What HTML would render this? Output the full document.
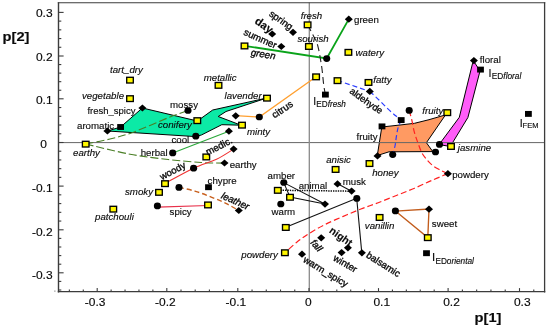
<!DOCTYPE html>
<html><head><meta charset="utf-8"><title>Loading plot p[1] vs p[2]</title>
<style>
html,body{margin:0;padding:0;background:#fff;}
svg{display:block;font-family:"Liberation Sans", sans-serif;fill:#111;}
svg text{fill:#0a0a0a;stroke:#0a0a0a;stroke-width:0.14px;}
</style></head>
<body>
<svg width="550" height="330" viewBox="0 0 550 330">
<rect x="0" y="0" width="550" height="330" fill="#fff"/>
<polygon points="107.6,131 120.6,127 142.4,108 197.4,121 212.7,110 266.8,98 226,111.5 218.2,116.5 241,125.2 221.8,124.7 201.4,135 195.6,136.6" fill="#0ceaa6" stroke="#000" stroke-width="1" stroke-linejoin="miter"/>
<polygon points="381.8,127 401,124.9 414.5,123.3 429,119.7 445.5,114.9 426.4,142.7 432.5,151.2 435.5,152.4 432,151.6 389,151.8 377.3,155.5" fill="#ff9a62" stroke="#000" stroke-width="1"/>
<polygon points="473.6,61 480,71 467.9,117.5 452,143.6 451,146.5 442.5,145.2 439.5,144.5 441.8,140.9 459.3,117.3 472.4,64" fill="#ff5cf8" stroke="#000" stroke-width="1"/>
<line x1="58.5" y1="142.6" x2="544.5" y2="142.6" stroke="#666" stroke-width="1"/>
<line x1="309.3" y1="2.5" x2="309.3" y2="291.5" stroke="#8a8a8a" stroke-width="1.3"/>
<path d="M244.5,45.8 L326.7,58.5 L348.8,19.1" fill="none" stroke="#0aa31a" stroke-width="1.8"/>
<path d="M172.7,152.9 L228.9,131.2" fill="none" stroke="#2aa83a" stroke-width="1.1"/>
<path d="M235.7,115.7 L259.3,117 L316.1,76.7" fill="none" stroke="#ffa030" stroke-width="1.3"/>
<path d="M307.6,24.7 C308.5,26.4 311.3,31.5 313,35 C314.7,38.5 316.4,40.6 317.8,45.8 C319.2,51.0 320.6,59.8 321.6,66.2 C322.6,72.6 323.0,79.3 323.6,84 C324.2,88.7 325.0,92.7 325.3,94.4" fill="none" stroke="#222" stroke-width="1.1" stroke-dasharray="7,4"/>
<path d="M337.3,80.4 L369.8,91.4" fill="none" stroke="#2a3cff" stroke-width="1.2" stroke-dasharray="5,3"/>
<path d="M369.8,91.4 C371.3,92.8 375.9,97.0 379,100 C382.1,103.0 385.4,106.4 388.2,109.1 C391.0,111.8 393.8,114.2 396,116 C398.2,117.8 400.4,119.3 401.3,120" fill="none" stroke="#2a3cff" stroke-width="1.2" stroke-dasharray="5,3"/>
<path d="M401.3,120 C400.8,121.2 399.0,124.6 398.2,127.3 C397.4,130.0 396.9,133.4 396.4,136.4 C395.9,139.4 395.7,142.5 395.1,145.5 C394.5,148.5 393.1,152.8 392.7,154.2" fill="none" stroke="#2a3cff" stroke-width="1.2" stroke-dasharray="5,3"/>
<path d="M409.1,110.5 C409.6,112.1 410.9,116.3 411.8,120 C412.7,123.7 413.4,128.8 414.5,132.7 C415.6,136.6 417.0,140.3 418.2,143.6 C419.4,146.9 420.4,150.0 421.8,152.7 C423.2,155.4 425.0,157.5 426.8,159.6 C428.6,161.7 430.5,163.8 432.7,165.5 C434.9,167.2 437.5,168.6 440,170 C442.5,171.4 446.5,173.2 447.8,173.8" fill="none" stroke="#ff2020" stroke-width="1.2" stroke-dasharray="6,3"/>
<path d="M447.8,173.6 C445.3,174.7 438.2,177.6 432.7,180 C427.1,182.4 420.6,185.6 414.5,188.2 C408.4,190.8 402.4,193.1 396.4,195.5 C390.3,197.9 384.1,200.4 378.2,202.7 C372.3,204.9 366.8,206.7 360.9,209 C355.0,211.3 348.8,214.0 342.7,216.6 C336.6,219.2 330.1,222.0 324.5,224.8 C318.9,227.6 313.6,230.8 309.1,233.6 C304.6,236.4 301.2,238.7 297.3,241.8 C293.4,244.9 287.5,250.5 285.5,252.2" fill="none" stroke="#ff2020" stroke-width="1.2" stroke-dasharray="6,3"/>
<path d="M85.7,144 C89.8,143.2 102.6,140.8 110,139 C117.4,137.2 123.3,135.7 130,133.4 C136.7,131.1 143.3,128.1 150,125.4 C156.7,122.7 163.7,119.5 170,117 C176.3,114.5 185.0,111.6 188,110.5" fill="none" stroke="#4a7f26" stroke-width="1.1" stroke-dasharray="8,3"/>
<path d="M85.7,144 C93.1,145.7 116.2,151.6 130,154.2 C143.8,156.8 156.3,158.1 168.2,159.5 C180.1,160.9 191.8,161.9 201.2,162.5 C210.6,163.1 220.8,163.0 224.7,163.1" fill="none" stroke="#4a7f26" stroke-width="1.1" stroke-dasharray="8,3"/>
<path d="M233.6,149.1 C230.8,150.8 223.2,156.1 216.5,159.3 C209.8,162.5 202.2,164.2 193.6,168.2 C185.0,172.2 169.7,180.9 164.9,183.4" fill="none" stroke="#f03030" stroke-width="1.1"/>
<path d="M157.4,207.2 L208,205.5" fill="none" stroke="#e8304a" stroke-width="1.2"/>
<path d="M178.9,187.3 C181.7,188.0 190.0,189.6 195.5,191.3 C201.0,193.0 206.7,195.2 211.8,197.3 C217.0,199.4 221.9,201.4 226.4,203.6 C230.9,205.8 236.7,209.3 238.8,210.5" fill="none" stroke="#c8601e" stroke-width="1.4" stroke-dasharray="5,3"/>
<path d="M283.7,182.6 L324.9,204 L290,197 L283.7,182.6" fill="none" stroke="#111" stroke-width="1.05"/>
<path d="M337.6,183.8 L351.6,191.2" fill="none" stroke="#111" stroke-width="1.05"/>
<path d="M277.8,190.2 L351.6,191.2" fill="none" stroke="#111" stroke-width="1.5" stroke-dasharray="1.4,1"/>
<path d="M285.8,227.3 L356.7,198.3 L361.8,252.9" fill="none" stroke="#111" stroke-width="1.1"/>
<path d="M395.4,211.1 L429,209 L427.8,237.6 L395.4,211.1" fill="none" stroke="#c25c1c" stroke-width="1.35"/>
<rect x="126.70" y="77.30" width="6.6" height="5.7" fill="#fff700" stroke="#000" stroke-width="1.35"/>
<rect x="126.70" y="95.80" width="6.6" height="5.7" fill="#fff700" stroke="#000" stroke-width="1.35"/>
<rect x="215.20" y="82.50" width="6.6" height="5.7" fill="#fff700" stroke="#000" stroke-width="1.35"/>
<rect x="263.70" y="95.30" width="6.6" height="5.7" fill="#fff700" stroke="#000" stroke-width="1.35"/>
<rect x="194.00" y="117.80" width="6.6" height="5.7" fill="#fff700" stroke="#000" stroke-width="1.35"/>
<rect x="238.70" y="122.30" width="6.6" height="5.7" fill="#fff700" stroke="#000" stroke-width="1.35"/>
<rect x="82.40" y="141.30" width="6.6" height="5.7" fill="#fff700" stroke="#000" stroke-width="1.35"/>
<rect x="161.70" y="180.80" width="6.6" height="5.7" fill="#fff700" stroke="#000" stroke-width="1.35"/>
<rect x="155.70" y="189.50" width="6.6" height="5.7" fill="#fff700" stroke="#000" stroke-width="1.35"/>
<rect x="110.00" y="206.30" width="6.6" height="5.7" fill="#fff700" stroke="#000" stroke-width="1.35"/>
<rect x="203.00" y="154.10" width="6.6" height="5.7" fill="#fff700" stroke="#000" stroke-width="1.35"/>
<rect x="204.70" y="202.10" width="6.6" height="5.7" fill="#fff700" stroke="#000" stroke-width="1.35"/>
<rect x="241.20" y="43.10" width="6.6" height="5.7" fill="#fff700" stroke="#000" stroke-width="1.35"/>
<rect x="304.30" y="22.00" width="6.6" height="5.7" fill="#fff700" stroke="#000" stroke-width="1.35"/>
<rect x="305.60" y="43.60" width="6.6" height="5.7" fill="#fff700" stroke="#000" stroke-width="1.35"/>
<rect x="345.10" y="49.50" width="6.6" height="5.7" fill="#fff700" stroke="#000" stroke-width="1.35"/>
<rect x="312.80" y="74.00" width="6.6" height="5.7" fill="#fff700" stroke="#000" stroke-width="1.35"/>
<rect x="334.20" y="77.80" width="6.6" height="5.7" fill="#fff700" stroke="#000" stroke-width="1.35"/>
<rect x="365.20" y="79.60" width="6.6" height="5.7" fill="#fff700" stroke="#000" stroke-width="1.35"/>
<rect x="444.00" y="109.80" width="6.6" height="5.7" fill="#fff700" stroke="#000" stroke-width="1.35"/>
<rect x="447.70" y="143.60" width="6.6" height="5.7" fill="#fff700" stroke="#000" stroke-width="1.35"/>
<rect x="366.20" y="160.70" width="6.6" height="5.7" fill="#fff700" stroke="#000" stroke-width="1.35"/>
<rect x="332.30" y="166.60" width="6.6" height="5.7" fill="#fff700" stroke="#000" stroke-width="1.35"/>
<rect x="274.50" y="187.50" width="6.6" height="5.7" fill="#fff700" stroke="#000" stroke-width="1.35"/>
<rect x="286.70" y="194.40" width="6.6" height="5.7" fill="#fff700" stroke="#000" stroke-width="1.35"/>
<rect x="282.50" y="224.60" width="6.6" height="5.7" fill="#fff700" stroke="#000" stroke-width="1.35"/>
<rect x="281.60" y="249.90" width="6.6" height="5.7" fill="#fff700" stroke="#000" stroke-width="1.35"/>
<rect x="376.30" y="214.60" width="6.6" height="5.7" fill="#fff700" stroke="#000" stroke-width="1.35"/>
<rect x="424.50" y="234.80" width="6.6" height="5.7" fill="#fff700" stroke="#000" stroke-width="1.35"/>
<rect x="117.20" y="124.05" width="6.8" height="5.9" fill="#000"/>
<rect x="205.10" y="184.25" width="6.8" height="5.9" fill="#000"/>
<rect x="322.00" y="91.65" width="6.8" height="5.9" fill="#000"/>
<rect x="378.60" y="123.45" width="6.8" height="5.9" fill="#000"/>
<rect x="397.80" y="117.15" width="6.8" height="5.9" fill="#000"/>
<rect x="477.10" y="66.65" width="6.8" height="5.9" fill="#000"/>
<rect x="525.00" y="110.95" width="6.8" height="5.9" fill="#000"/>
<rect x="423.10" y="250.25" width="6.8" height="5.9" fill="#000"/>
<ellipse cx="188" cy="110.5" rx="3.55" ry="3.35" fill="#000"/>
<ellipse cx="195.8" cy="136.2" rx="3.55" ry="3.35" fill="#000"/>
<ellipse cx="259.3" cy="117" rx="3.55" ry="3.35" fill="#000"/>
<ellipse cx="172.7" cy="152.9" rx="3.55" ry="3.35" fill="#000"/>
<ellipse cx="193.6" cy="168.2" rx="3.55" ry="3.35" fill="#000"/>
<ellipse cx="179" cy="187.4" rx="3.55" ry="3.35" fill="#000"/>
<ellipse cx="157.4" cy="205.9" rx="3.55" ry="3.35" fill="#000"/>
<ellipse cx="326.7" cy="58.6" rx="3.55" ry="3.35" fill="#000"/>
<ellipse cx="409.2" cy="110.4" rx="3.55" ry="3.35" fill="#000"/>
<ellipse cx="392.7" cy="154.6" rx="3.55" ry="3.35" fill="#000"/>
<ellipse cx="435.5" cy="152" rx="3.55" ry="3.35" fill="#000"/>
<ellipse cx="439.5" cy="144.4" rx="3.55" ry="3.35" fill="#000"/>
<ellipse cx="283.8" cy="182.5" rx="3.55" ry="3.35" fill="#000"/>
<ellipse cx="280.8" cy="204" rx="3.55" ry="3.35" fill="#000"/>
<ellipse cx="356.8" cy="198.4" rx="3.55" ry="3.35" fill="#000"/>
<ellipse cx="395.4" cy="210.9" rx="3.55" ry="3.35" fill="#000"/>
<path d="M138.40,108 L142.4,104.40 L146.40,108 L142.4,111.60Z" fill="#000"/>
<path d="M103.40,131 L107.4,127.40 L111.40,131 L107.4,134.60Z" fill="#000"/>
<path d="M231.70,115.8 L235.7,112.20 L239.70,115.8 L235.7,119.40Z" fill="#000"/>
<path d="M224.90,131.2 L228.9,127.60 L232.90,131.2 L228.9,134.80Z" fill="#000"/>
<path d="M229.60,149.1 L233.6,145.50 L237.60,149.1 L233.6,152.70Z" fill="#000"/>
<path d="M220.50,163 L224.5,159.40 L228.50,163 L224.5,166.60Z" fill="#000"/>
<path d="M234.80,210.5 L238.8,206.90 L242.80,210.5 L238.8,214.10Z" fill="#000"/>
<path d="M268.20,34 L272.2,30.40 L276.20,34 L272.2,37.60Z" fill="#000"/>
<path d="M289.00,32.3 L293,28.70 L297.00,32.3 L293,35.90Z" fill="#000"/>
<path d="M277.30,46.5 L281.3,42.90 L285.30,46.5 L281.3,50.10Z" fill="#000"/>
<path d="M344.80,19.2 L348.8,15.60 L352.80,19.2 L348.8,22.80Z" fill="#000"/>
<path d="M365.80,91.4 L369.8,87.80 L373.80,91.4 L369.8,95.00Z" fill="#000"/>
<path d="M469.90,60.6 L473.9,57.00 L477.90,60.6 L473.9,64.20Z" fill="#000"/>
<path d="M373.50,155.9 L377.5,152.30 L381.50,155.9 L377.5,159.50Z" fill="#000"/>
<path d="M443.90,173.7 L447.9,170.10 L451.90,173.7 L447.9,177.30Z" fill="#000"/>
<path d="M333.50,183.9 L337.5,180.30 L341.50,183.9 L337.5,187.50Z" fill="#000"/>
<path d="M347.60,191.1 L351.6,187.50 L355.60,191.1 L351.6,194.70Z" fill="#000"/>
<path d="M321.00,204.1 L325,200.50 L329.00,204.1 L325,207.70Z" fill="#000"/>
<path d="M425.00,209.2 L429,205.60 L433.00,209.2 L429,212.80Z" fill="#000"/>
<path d="M317.20,237.8 L321.2,234.20 L325.20,237.8 L321.2,241.40Z" fill="#000"/>
<path d="M343.90,247.8 L347.9,244.20 L351.90,247.8 L347.9,251.40Z" fill="#000"/>
<path d="M337.60,252.6 L341.6,249.00 L345.60,252.6 L341.6,256.20Z" fill="#000"/>
<path d="M298.00,254.2 L302,250.60 L306.00,254.2 L302,257.80Z" fill="#000"/>
<path d="M357.90,252.8 L361.9,249.20 L365.90,252.8 L361.9,256.40Z" fill="#000"/>
<line x1="58.5" y1="2.2" x2="58.5" y2="292.4" stroke="#3c3c3c" stroke-width="1.4"/>
<line x1="544.6" y1="2.2" x2="544.6" y2="292.4" stroke="#3c3c3c" stroke-width="1.3"/>
<line x1="57.8" y1="2.7" x2="545.25" y2="2.7" stroke="#3c3c3c" stroke-width="1.05"/>
<line x1="57.8" y1="291.7" x2="545.25" y2="291.7" stroke="#3c3c3c" stroke-width="1.3"/>
<line x1="69.36" y1="291.7" x2="69.36" y2="289.5" stroke="#3c3c3c" stroke-width="1.1"/>
<line x1="58.5" y1="290.00" x2="61.3" y2="290.00" stroke="#3c3c3c" stroke-width="1.1"/>
<line x1="83.28" y1="291.7" x2="83.28" y2="289.5" stroke="#3c3c3c" stroke-width="1.1"/>
<line x1="58.5" y1="281.40" x2="61.3" y2="281.40" stroke="#3c3c3c" stroke-width="1.1"/>
<line x1="97.20" y1="291.7" x2="97.20" y2="288.09999999999997" stroke="#3c3c3c" stroke-width="1.1"/>
<line x1="58.5" y1="272.80" x2="63.6" y2="272.80" stroke="#3c3c3c" stroke-width="1.1"/>
<line x1="111.12" y1="291.7" x2="111.12" y2="289.5" stroke="#3c3c3c" stroke-width="1.1"/>
<line x1="58.5" y1="264.20" x2="61.3" y2="264.20" stroke="#3c3c3c" stroke-width="1.1"/>
<line x1="125.04" y1="291.7" x2="125.04" y2="289.5" stroke="#3c3c3c" stroke-width="1.1"/>
<line x1="58.5" y1="255.60" x2="61.3" y2="255.60" stroke="#3c3c3c" stroke-width="1.1"/>
<line x1="138.96" y1="291.7" x2="138.96" y2="289.5" stroke="#3c3c3c" stroke-width="1.1"/>
<line x1="58.5" y1="247.00" x2="61.3" y2="247.00" stroke="#3c3c3c" stroke-width="1.1"/>
<line x1="152.88" y1="291.7" x2="152.88" y2="289.5" stroke="#3c3c3c" stroke-width="1.1"/>
<line x1="58.5" y1="238.40" x2="61.3" y2="238.40" stroke="#3c3c3c" stroke-width="1.1"/>
<line x1="166.80" y1="291.7" x2="166.80" y2="288.09999999999997" stroke="#3c3c3c" stroke-width="1.1"/>
<line x1="58.5" y1="229.80" x2="63.6" y2="229.80" stroke="#3c3c3c" stroke-width="1.1"/>
<line x1="181.00" y1="291.7" x2="181.00" y2="289.5" stroke="#3c3c3c" stroke-width="1.1"/>
<line x1="58.5" y1="221.06" x2="61.3" y2="221.06" stroke="#3c3c3c" stroke-width="1.1"/>
<line x1="195.20" y1="291.7" x2="195.20" y2="289.5" stroke="#3c3c3c" stroke-width="1.1"/>
<line x1="58.5" y1="212.32" x2="61.3" y2="212.32" stroke="#3c3c3c" stroke-width="1.1"/>
<line x1="209.40" y1="291.7" x2="209.40" y2="289.5" stroke="#3c3c3c" stroke-width="1.1"/>
<line x1="58.5" y1="203.58" x2="61.3" y2="203.58" stroke="#3c3c3c" stroke-width="1.1"/>
<line x1="223.60" y1="291.7" x2="223.60" y2="289.5" stroke="#3c3c3c" stroke-width="1.1"/>
<line x1="58.5" y1="194.84" x2="61.3" y2="194.84" stroke="#3c3c3c" stroke-width="1.1"/>
<line x1="237.80" y1="291.7" x2="237.80" y2="288.09999999999997" stroke="#3c3c3c" stroke-width="1.1"/>
<line x1="58.5" y1="186.10" x2="63.6" y2="186.10" stroke="#3c3c3c" stroke-width="1.1"/>
<line x1="252.04" y1="291.7" x2="252.04" y2="289.5" stroke="#3c3c3c" stroke-width="1.1"/>
<line x1="58.5" y1="177.38" x2="61.3" y2="177.38" stroke="#3c3c3c" stroke-width="1.1"/>
<line x1="266.28" y1="291.7" x2="266.28" y2="289.5" stroke="#3c3c3c" stroke-width="1.1"/>
<line x1="58.5" y1="168.66" x2="61.3" y2="168.66" stroke="#3c3c3c" stroke-width="1.1"/>
<line x1="280.52" y1="291.7" x2="280.52" y2="289.5" stroke="#3c3c3c" stroke-width="1.1"/>
<line x1="58.5" y1="159.94" x2="61.3" y2="159.94" stroke="#3c3c3c" stroke-width="1.1"/>
<line x1="294.76" y1="291.7" x2="294.76" y2="289.5" stroke="#3c3c3c" stroke-width="1.1"/>
<line x1="58.5" y1="151.22" x2="61.3" y2="151.22" stroke="#3c3c3c" stroke-width="1.1"/>
<line x1="309.00" y1="291.7" x2="309.00" y2="288.09999999999997" stroke="#3c3c3c" stroke-width="1.1"/>
<line x1="58.5" y1="142.50" x2="63.6" y2="142.50" stroke="#3c3c3c" stroke-width="1.1"/>
<line x1="322.90" y1="291.7" x2="322.90" y2="289.5" stroke="#3c3c3c" stroke-width="1.1"/>
<line x1="58.5" y1="133.76" x2="61.3" y2="133.76" stroke="#3c3c3c" stroke-width="1.1"/>
<line x1="336.80" y1="291.7" x2="336.80" y2="289.5" stroke="#3c3c3c" stroke-width="1.1"/>
<line x1="58.5" y1="125.02" x2="61.3" y2="125.02" stroke="#3c3c3c" stroke-width="1.1"/>
<line x1="350.70" y1="291.7" x2="350.70" y2="289.5" stroke="#3c3c3c" stroke-width="1.1"/>
<line x1="58.5" y1="116.28" x2="61.3" y2="116.28" stroke="#3c3c3c" stroke-width="1.1"/>
<line x1="364.60" y1="291.7" x2="364.60" y2="289.5" stroke="#3c3c3c" stroke-width="1.1"/>
<line x1="58.5" y1="107.54" x2="61.3" y2="107.54" stroke="#3c3c3c" stroke-width="1.1"/>
<line x1="378.50" y1="291.7" x2="378.50" y2="288.09999999999997" stroke="#3c3c3c" stroke-width="1.1"/>
<line x1="58.5" y1="98.80" x2="63.6" y2="98.80" stroke="#3c3c3c" stroke-width="1.1"/>
<line x1="392.42" y1="291.7" x2="392.42" y2="289.5" stroke="#3c3c3c" stroke-width="1.1"/>
<line x1="58.5" y1="90.24" x2="61.3" y2="90.24" stroke="#3c3c3c" stroke-width="1.1"/>
<line x1="406.34" y1="291.7" x2="406.34" y2="289.5" stroke="#3c3c3c" stroke-width="1.1"/>
<line x1="58.5" y1="81.68" x2="61.3" y2="81.68" stroke="#3c3c3c" stroke-width="1.1"/>
<line x1="420.26" y1="291.7" x2="420.26" y2="289.5" stroke="#3c3c3c" stroke-width="1.1"/>
<line x1="58.5" y1="73.12" x2="61.3" y2="73.12" stroke="#3c3c3c" stroke-width="1.1"/>
<line x1="434.18" y1="291.7" x2="434.18" y2="289.5" stroke="#3c3c3c" stroke-width="1.1"/>
<line x1="58.5" y1="64.56" x2="61.3" y2="64.56" stroke="#3c3c3c" stroke-width="1.1"/>
<line x1="448.10" y1="291.7" x2="448.10" y2="288.09999999999997" stroke="#3c3c3c" stroke-width="1.1"/>
<line x1="58.5" y1="56.00" x2="63.6" y2="56.00" stroke="#3c3c3c" stroke-width="1.1"/>
<line x1="462.38" y1="291.7" x2="462.38" y2="289.5" stroke="#3c3c3c" stroke-width="1.1"/>
<line x1="58.5" y1="47.28" x2="61.3" y2="47.28" stroke="#3c3c3c" stroke-width="1.1"/>
<line x1="476.66" y1="291.7" x2="476.66" y2="289.5" stroke="#3c3c3c" stroke-width="1.1"/>
<line x1="58.5" y1="38.56" x2="61.3" y2="38.56" stroke="#3c3c3c" stroke-width="1.1"/>
<line x1="490.94" y1="291.7" x2="490.94" y2="289.5" stroke="#3c3c3c" stroke-width="1.1"/>
<line x1="58.5" y1="29.84" x2="61.3" y2="29.84" stroke="#3c3c3c" stroke-width="1.1"/>
<line x1="505.22" y1="291.7" x2="505.22" y2="289.5" stroke="#3c3c3c" stroke-width="1.1"/>
<line x1="58.5" y1="21.12" x2="61.3" y2="21.12" stroke="#3c3c3c" stroke-width="1.1"/>
<line x1="519.50" y1="291.7" x2="519.50" y2="288.09999999999997" stroke="#3c3c3c" stroke-width="1.1"/>
<line x1="58.5" y1="12.40" x2="63.6" y2="12.40" stroke="#3c3c3c" stroke-width="1.1"/>
<line x1="533.78" y1="291.7" x2="533.78" y2="289.5" stroke="#3c3c3c" stroke-width="1.1"/>
<rect x="54.4" y="290.6" width="1" height="1" fill="#555"/>
<text transform="translate(52.6 17.0) scale(1.2 1)" text-anchor="end" style="font-size:10px;">0.3</text>
<text transform="translate(52.6 61.0) scale(1.2 1)" text-anchor="end" style="font-size:10px;">0.2</text>
<text transform="translate(52.6 103.9) scale(1.2 1)" text-anchor="end" style="font-size:10px;">0.1</text>
<text transform="translate(52.6 191.9) scale(1.2 1)" text-anchor="end" style="font-size:10px;">-0.1</text>
<text transform="translate(52.6 235.6) scale(1.2 1)" text-anchor="end" style="font-size:10px;">-0.2</text>
<text transform="translate(52.6 278.7) scale(1.2 1)" text-anchor="end" style="font-size:10px;">-0.3</text>
<text transform="translate(43.5 148.4) scale(1.2 1)" text-anchor="middle" style="font-size:10px;">0</text>
<text transform="translate(84.8 305.6) scale(1.2 1)" text-anchor="start" style="font-size:10px;">-0.3</text>
<text transform="translate(155.1 305.6) scale(1.2 1)" text-anchor="start" style="font-size:10px;">-0.2</text>
<text transform="translate(225.5 305.6) scale(1.2 1)" text-anchor="start" style="font-size:10px;">-0.1</text>
<text transform="translate(305.0 305.6) scale(1.2 1)" text-anchor="start" style="font-size:10px;">0</text>
<text transform="translate(373.4 305.6) scale(1.2 1)" text-anchor="start" style="font-size:10px;">0.1</text>
<text transform="translate(443.2 305.6) scale(1.2 1)" text-anchor="start" style="font-size:10px;">0.2</text>
<text transform="translate(513.9 305.6) scale(1.2 1)" text-anchor="start" style="font-size:10px;">0.3</text>
<text transform="translate(2.6 40.5) scale(1.13 1)" text-anchor="start" style="font-size:13px;font-weight:bold;">p[2]</text>
<text transform="translate(474.6 322.3) scale(1.13 1)" text-anchor="start" style="font-size:13px;font-weight:bold;">p[1]</text>
<text x="110" y="72.5" text-anchor="start" style="font-size:9.7px;font-style:italic;">tart_dry</text>
<text x="82" y="99" text-anchor="start" style="font-size:9.7px;font-style:italic;">vegetable</text>
<text x="87.4" y="114.0" text-anchor="start" style="font-size:9.5px;">fresh_spicy</text>
<text x="77" y="128.5" text-anchor="start" style="font-size:9.7px;">aromatic</text>
<text x="73.0" y="156.0" text-anchor="start" style="font-size:9.7px;font-style:italic;">earthy</text>
<text x="170" y="107.5" text-anchor="start" style="font-size:9.7px;">mossy</text>
<text x="158" y="127.8" text-anchor="start" style="font-size:9.7px;font-style:italic;">conifery</text>
<text x="171.5" y="143.0" text-anchor="start" style="font-size:9.7px;">cool</text>
<text x="140.7" y="156.3" text-anchor="start" style="font-size:9.7px;">herbal</text>
<text x="203.7" y="80.5" text-anchor="start" style="font-size:9.7px;font-style:italic;">metallic</text>
<text x="224.5" y="99" text-anchor="start" style="font-size:9.7px;font-style:italic;">lavender</text>
<text x="247" y="135" text-anchor="start" style="font-size:9.7px;font-style:italic;">minty</text>
<text x="274.6" y="118.6" text-anchor="start" style="font-size:9.7px;stroke-width:0.35px;" transform="rotate(-34 274.6 118.6)">citrus</text>
<text x="207.8" y="155.6" text-anchor="start" style="font-size:9.7px;stroke-width:0.35px;" transform="rotate(-27 207.8 155.6)">medic.</text>
<text x="229.7" y="167.8" text-anchor="start" style="font-size:9.7px;">earthy</text>
<text x="162" y="180.3" text-anchor="start" style="font-size:9.6px;stroke-width:0.35px;" transform="rotate(-28 162 180.3)">woody</text>
<text x="125" y="195.2" text-anchor="start" style="font-size:9.7px;font-style:italic;">smoky</text>
<text x="95" y="220" text-anchor="start" style="font-size:9.7px;font-style:italic;">patchouli</text>
<text x="169.6" y="215.0" text-anchor="start" style="font-size:9.7px;">spicy</text>
<text x="207.6" y="184.2" text-anchor="start" style="font-size:9.7px;">chypre</text>
<text x="220.5" y="198" text-anchor="start" style="font-size:9.7px;font-style:italic;stroke-width:0.35px;" transform="rotate(24 220.5 198)">leather</text>
<text x="268.4" y="15.2" text-anchor="start" style="font-size:9.7px;stroke-width:0.35px;" transform="rotate(35 268.4 15.2)">spring</text>
<text x="254.0" y="22.8" text-anchor="start" style="font-size:11.2px;font-weight:bold;" transform="rotate(35 254.0 22.8)">day</text>
<text x="243" y="34.5" text-anchor="start" style="font-size:9.7px;stroke-width:0.35px;" transform="rotate(24 243 34.5)">summer</text>
<text x="250.5" y="55.5" text-anchor="start" style="font-size:9.7px;font-style:italic;stroke-width:0.35px;" transform="rotate(9 250.5 55.5)">green</text>
<text x="300.7" y="19" text-anchor="start" style="font-size:9.7px;font-style:italic;">fresh</text>
<text x="297.4" y="42" text-anchor="start" style="font-size:9.7px;font-style:italic;">sourish</text>
<text x="354" y="22.6" text-anchor="start" style="font-size:9.7px;">green</text>
<text x="355.5" y="55.6" text-anchor="start" style="font-size:9.7px;font-style:italic;">watery</text>
<text x="373.2" y="83.3" text-anchor="start" style="font-size:9.7px;font-style:italic;">fatty</text>
<text x="348.9" y="92.6" text-anchor="start" style="font-size:9.35px;stroke-width:0.35px;" transform="rotate(35 348.9 92.6)">aldehyde</text>
<text x="356.5" y="139.8" text-anchor="start" style="font-size:9.7px;">fruity</text>
<text x="422.3" y="114.3" text-anchor="start" style="font-size:9.7px;font-style:italic;">fruity</text>
<text x="479.8" y="63" text-anchor="start" style="font-size:9.7px;">floral</text>
<text x="457.8" y="151.3" text-anchor="start" style="font-size:9.7px;font-style:italic;">jasmine</text>
<text x="372.2" y="175.6" text-anchor="start" style="font-size:9.7px;font-style:italic;">honey</text>
<text x="452.2" y="178.4" text-anchor="start" style="font-size:9.7px;">powdery</text>
<text x="326.2" y="162.6" text-anchor="start" style="font-size:9.7px;font-style:italic;">anisic</text>
<text x="267.6" y="178.7" text-anchor="start" style="font-size:9.7px;">amber</text>
<text x="298.7" y="189" text-anchor="start" style="font-size:9.7px;">animal</text>
<text x="342.7" y="185.2" text-anchor="start" style="font-size:9.7px;">musk</text>
<text x="271.5" y="215.2" text-anchor="start" style="font-size:9.7px;">warm</text>
<text x="364.8" y="229" text-anchor="start" style="font-size:9.7px;font-style:italic;">vanillin</text>
<text x="431.8" y="226.5" text-anchor="start" style="font-size:9.7px;">sweet</text>
<text x="241.3" y="257.7" text-anchor="start" style="font-size:9.7px;font-style:italic;">powdery</text>
<text x="310" y="243" text-anchor="start" style="font-size:9.7px;font-style:italic;stroke-width:0.35px;" transform="rotate(49 310 243)">fall</text>
<text x="328.6" y="232.1" text-anchor="start" style="font-size:10.4px;font-weight:bold;" transform="rotate(35 328.6 232.1)">night</text>
<text x="332.5" y="260" text-anchor="start" style="font-size:9.7px;stroke-width:0.35px;" transform="rotate(30 332.5 260)">winter</text>
<text x="302.6" y="261.6" text-anchor="start" style="font-size:9.5px;stroke-width:0.35px;" transform="rotate(31 302.6 261.6)">warm_spicy</text>
<text x="365.5" y="256.8" text-anchor="start" style="font-size:9.7px;stroke-width:0.35px;" transform="rotate(32.5 365.5 256.8)">balsamic</text>
<text x="313.3" y="104.9" style="font-size:10.4px">I</text>
<text x="316.3" y="107.4" style="font-size:8.2px">ED<tspan style="font-style:italic">fresh</tspan></text>
<text x="488.6" y="77.0" style="font-size:10.6px">I</text>
<text x="491.8" y="78.7" style="font-size:8.3px">ED<tspan style="font-style:italic">floral</tspan></text>
<text x="519.7" y="126.8" style="font-size:10.6px">I</text>
<text x="522.6" y="127.6" style="font-size:7.5px">FEM<tspan style="font-style:italic"></tspan></text>
<text x="431.9" y="261.0" style="font-size:11.4px">I</text>
<text x="435.4" y="264.0" style="font-size:8.25px">ED<tspan style="font-style:italic">oriental</tspan></text>
</svg>
</body></html>
